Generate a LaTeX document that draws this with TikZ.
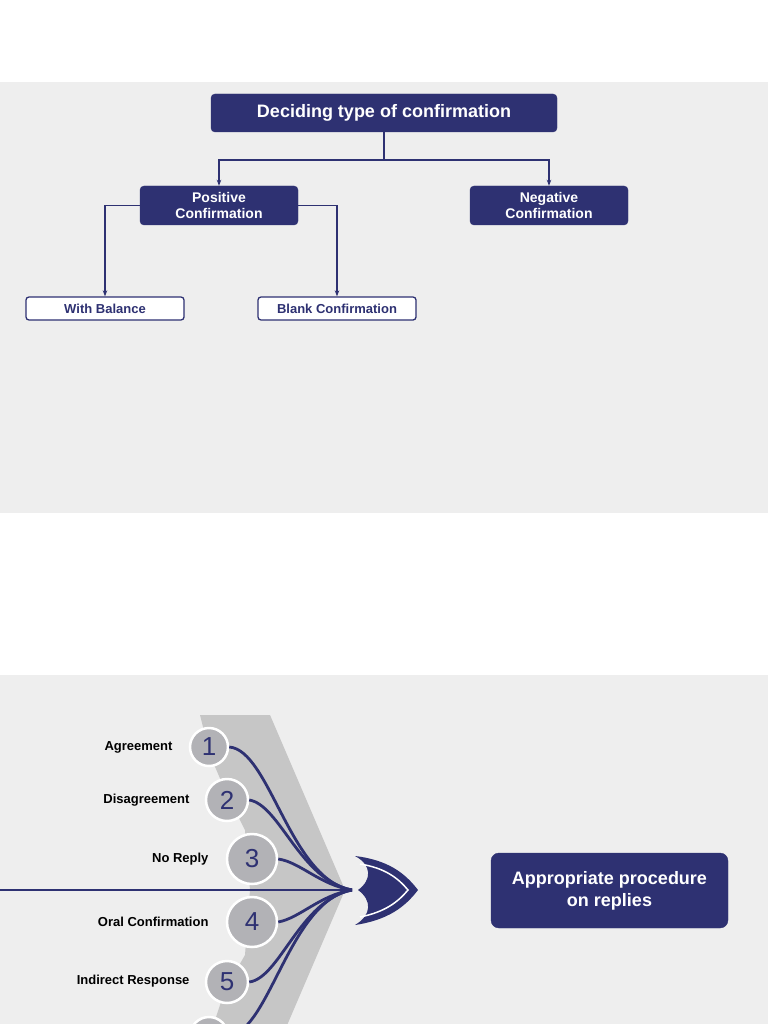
\documentclass[tikz,border=0pt]{standalone}
\usepackage{fontspec}
\usetikzlibrary{arrows.meta}
\setmainfont{Liberation Sans}
\definecolor{navy}{HTML}{2E3172}
\definecolor{bandgrey}{HTML}{EEEEEE}
\definecolor{shapegrey}{HTML}{C6C6C6}
\definecolor{circgrey}{HTML}{B2B2B6}
\tikzset{
 darkbox/.style={draw=navy,fill=navy,rounded corners=4pt,text=white,font=\bfseries\fontsize{14}{16}\selectfont,align=center,inner sep=0pt},
 lightbox/.style={draw=navy,line width=1.3pt,fill=white,rounded corners=3pt,text=navy,font=\bfseries\fontsize{13}{15}\selectfont,inner sep=0pt},
 conn/.style={navy,line width=1.5pt,-{Stealth[length=6pt]}},
 num/.style={circle,fill=circgrey,draw=white,line width=2.5pt,text=navy,font=\fontsize{26}{28}\selectfont,inner sep=0pt},
 lab/.style={anchor=east,font=\bfseries\fontsize{13}{15}\selectfont},
 fan/.style={navy,line width=2.8pt}
}
\begin{document}
\begin{tikzpicture}[x=1pt,y=-1pt]
\useasboundingbox (0,0) rectangle (768,1024);
\fill[white] (0,0) rectangle (768,1024);
\fill[bandgrey] (0,82) rectangle (768,513);
\fill[bandgrey] (0,675) rectangle (768,1024);
% top tree
\node[darkbox,minimum width=346pt,minimum height=38pt,font=\bfseries\fontsize{18}{20}\selectfont] (title) at (384,113) {Deciding type of confirmation};
\node[darkbox,minimum width=158pt,minimum height=39pt] (pos) at (219,205.5) {Positive\\Confirmation};
\node[darkbox,minimum width=158pt,minimum height=39pt] (neg) at (549,205.5) {Negative\\Confirmation};
\node[lightbox,minimum width=158pt,minimum height=23pt] (bal) at (105,308.5) {With Balance};
\node[lightbox,minimum width=158pt,minimum height=23pt] (blank) at (337,308.5) {Blank Confirmation};
\coordinate (split) at (384,160);
\draw[navy,line width=1.5pt] (title.south) -- (split);
\draw[conn] (split) -| (pos.north);
\draw[conn] (split) -| (neg.north);
\draw[conn] (pos.west) -| (bal.north);
\draw[conn] (pos.east) -| (blank.north);
% bottom chevron
\fill[shapegrey] (200,715) -- (270,715) -- (345,890) -- (270,1065) -- (200,1065)
  -- (215,1020) -- (225,990) -- (245,955) -- (250,890) -- (245,830) -- (225,790) -- (210,755) -- cycle;
\node[num,minimum size=38pt] (c1) at (209,747) {1};
\node[num,minimum size=42pt] (c2) at (227,800) {2};
\node[num,minimum size=50pt] (c3) at (252,859) {3};
\node[num,minimum size=50pt] (c4) at (252,922) {4};
\node[num,minimum size=42pt] (c5) at (227,982) {5};
\node[num,minimum size=38pt] (c6) at (209,1036) {};
\node[lab] (l1) at (176,747) {Agreement};
\node[lab] (l2) at (193,800) {Disagreement};
\node[lab] (l3) at (212,859) {No Reply};
\node[lab] (l4) at (212,922) {Oral Confirmation};
\node[lab] (l5) at (193,981) {Indirect Response};
\coordinate (hub) at (352,890);
\coordinate (lstart) at (0,890);
\draw[navy,line width=2.4pt] (lstart) -- (hub);
\draw[fan] (c1.east) .. controls (270,750) and (290,880) .. (hub);
\draw[fan] (c2.east) .. controls (280,805) and (300,880) .. (hub);
\draw[fan] (c3.east) .. controls (300,862) and (320,885) .. (hub);
\draw[fan] (c4.east) .. controls (300,918) and (320,895) .. (hub);
\draw[fan] (c5.east) .. controls (280,978) and (300,900) .. (hub);
\draw[fan] (c6.east) .. controls (270,1030) and (290,900) .. (hub);
\fill[navy] (355,856) .. controls (388,860) and (405,873) .. (418,890) .. controls (405,907) and (388,920) .. (355,925)
  .. controls (372,915) and (372,900) .. (358,890) .. controls (372,880) and (372,865) .. cycle;
\draw[white,line width=1.5pt] (360,864) .. controls (385,868) and (398,878) .. (408,890) .. controls (398,902) and (385,912) .. (360,917);
\node[darkbox,minimum width=237pt,minimum height=75pt,rounded corners=8pt,font=\bfseries\fontsize{18}{22}\selectfont] (proc) at (609.5,890.5) {Appropriate procedure\\on replies};
\end{tikzpicture}
\end{document}
